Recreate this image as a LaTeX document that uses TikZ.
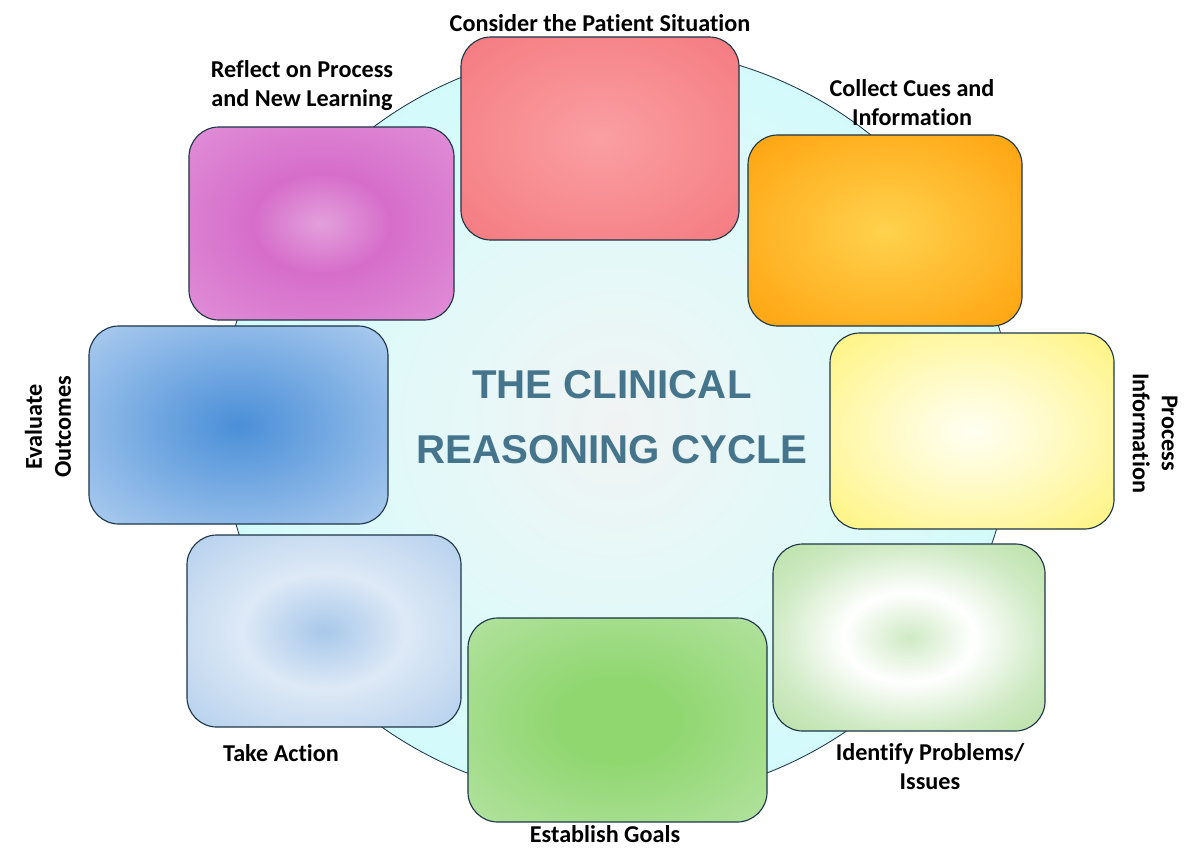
\documentclass[tikz,border=0pt]{standalone}
\usepackage{fontspec}
\setmainfont{Carlito}[Ligatures=NoCommon]
\newfontfamily\headfont{Liberation Sans}
\usepackage{tikz}
\usetikzlibrary{shapes.geometric}

\definecolor{edgeblue}{HTML}{1E3648}
\definecolor{headblue}{HTML}{45758C}
% ring colours
\definecolor{ringin}{HTML}{F1F3F3}
\definecolor{ringmid}{HTML}{E6F8F8}
\definecolor{ringout}{HTML}{D3FAFB}
% stage colours
\definecolor{redin}{HTML}{FA9FA3}
\definecolor{redout}{HTML}{F47A7F}
\definecolor{orangein}{HTML}{FFD24D}
\definecolor{orangeout}{HTML}{FFA20E}
\definecolor{yellowin}{HTML}{FFFFF2}
\definecolor{yellowout}{HTML}{FFF37C}
\definecolor{paleg}{HTML}{CFEAC4}
\definecolor{palegout}{HTML}{B8E0A5}
\definecolor{greenin}{HTML}{90D770}
\definecolor{greenout}{HTML}{B3E2A0}
\definecolor{skyin}{HTML}{A8C8EA}
\definecolor{skyring}{HTML}{DDE9F6}
\definecolor{skyout}{HTML}{B3CFEC}
\definecolor{bluein}{HTML}{4A8FD8}
\definecolor{blueout}{HTML}{AECDEF}
\definecolor{pinkin}{HTML}{E3A0DB}
\definecolor{pinkring}{HTML}{D66DCA}
\definecolor{pinkout}{HTML}{E090D8}

\pgfdeclareradialshading{ringglow}{\pgfpointorigin}{color(0bp)=(ringin); color(10bp)=(ringmid); color(25bp)=(ringout); color(50bp)=(ringout)}
\pgfdeclareradialshading{redglow}{\pgfpointorigin}{color(0bp)=(redin); color(36bp)=(redout); color(50bp)=(redout)}
\pgfdeclareradialshading{orangeglow}{\pgfpointorigin}{color(0bp)=(orangein); color(36bp)=(orangeout); color(50bp)=(orangeout)}
\pgfdeclareradialshading{yellowglow}{\pgfpointorigin}{color(0bp)=(yellowin); color(12bp)=(yellowin!70!yellowout); color(36bp)=(yellowout); color(50bp)=(yellowout)}
\pgfdeclareradialshading{paleglow}{\pgfpointorigin}{color(0bp)=(paleg); color(12bp)=(white); color(25bp)=(paleg); color(36bp)=(palegout); color(50bp)=(palegout)}
\pgfdeclareradialshading{greenglow}{\pgfpointorigin}{color(0bp)=(greenin); color(10bp)=(greenin); color(36bp)=(greenout); color(50bp)=(greenout)}
\pgfdeclareradialshading{skyglow}{\pgfpointorigin}{color(0bp)=(skyin); color(15bp)=(skyring); color(36bp)=(skyout); color(50bp)=(skyout)}
\pgfdeclareradialshading{blueglow}{\pgfpointorigin}{color(0bp)=(bluein); color(36bp)=(blueout); color(50bp)=(blueout)}
\pgfdeclareradialshading{pinkglow}{\pgfpointorigin}{color(0bp)=(pinkin); color(13bp)=(pinkring); color(36bp)=(pinkout); color(50bp)=(pinkout)}

\tikzset{
  stage/.style={draw=edgeblue,line width=0.8pt,shade,rounded corners=0.75cm,inner sep=0pt,outer sep=0pt},
  tag/.style={font=\bfseries\fontsize{17.2}{20.6}\selectfont,align=center,inner sep=0pt},
  headline/.style={font=\headfont\bfseries\fontsize{28.6}{46}\selectfont,text=headblue,align=center,inner sep=0pt}
}

\begin{document}
\begin{tikzpicture}[x=0.025cm,y=-0.025cm,line join=round]
  \useasboundingbox (0,0) rectangle (1200,849);

  % background ring
  \node[ellipse,draw=edgeblue,line width=0.6pt,shade,shading=ringglow,minimum width=19.75cm,minimum height=18.85cm,inner sep=0pt] (ring) at (617,424) {};

  % stages
  \node[stage,shading=redglow,minimum width=6.95cm,minimum height=5.075cm] (consider) at (600,138.5) {};
  \node[stage,shading=orangeglow,minimum width=6.85cm,minimum height=4.775cm] (collect) at (885,230.5) {};
  \node[stage,shading=yellowglow,minimum width=7.1cm,minimum height=4.9cm] (process) at (972,431) {};
  \node[stage,shading=paleglow,minimum width=6.8cm,minimum height=4.675cm] (identify) at (909,637.5) {};
  \node[stage,shading=greenglow,minimum width=7.475cm,minimum height=5.1cm] (goals) at (617.5,720) {};
  \node[stage,shading=skyglow,minimum width=6.85cm,minimum height=4.8cm] (action) at (324,631) {};
  \node[stage,shading=blueglow,minimum width=7.475cm,minimum height=4.95cm] (evaluate) at (238.5,425) {};
  \node[stage,shading=pinkglow,minimum width=6.625cm,minimum height=4.825cm] (reflect) at (321.5,223.5) {};

  % labels
  \node[tag] (considerlbl) at (600,23) {Consider the Patient Situation};
  \node[tag] (collectlbl) at (912,103) {Collect Cues and\\Information};
  \node[tag,rotate=-90] (processlbl) at (1155,433) {Process\\Information};
  \node[tag] (identifylbl) at (930,767) {Identify Problems/\\Issues};
  \node[tag] (goalslbl) at (605,834) {Establish Goals};
  \node[tag] (actionlbl) at (281,753) {Take Action};
  \node[tag,rotate=90] (evaluatelbl) at (48,427) {Evaluate\\Outcomes};
  \node[tag] (reflectlbl) at (302,86) {Reflect on Process\\and New Learning};

  % title
  \node[headline] (title) at (612,417) {THE CLINICAL\\REASONING CYCLE};
\end{tikzpicture}
\end{document}
